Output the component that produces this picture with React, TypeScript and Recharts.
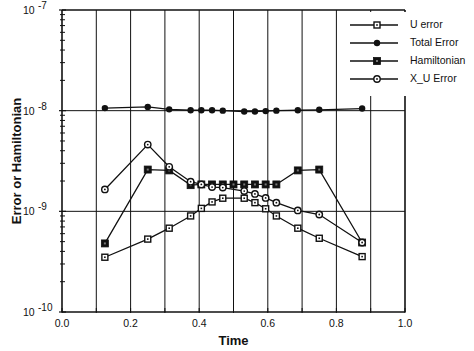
import React from 'react';
import {
  LineChart,
  Line,
  XAxis,
  YAxis,
  ReferenceLine,
  Legend
} from 'recharts';

// time values (1/32 steps), only the Hamiltonian has a point at 0.5
const times = [0.125, 0.25, 0.3125, 0.375, 0.40625, 0.4375, 0.46875, 0.5, 0.53125, 0.5625, 0.59375, 0.625, 0.6875, 0.75, 0.875];
const uError = [3.5e-10, 5.3e-10, 6.8e-10, 9.0e-10, 1.07e-9, 1.24e-9, 1.35e-9, null, 1.35e-9, 1.22e-9, 1.06e-9, 9.0e-10, 6.8e-10, 5.4e-10, 3.55e-10];
const totalError = [1.06e-8, 1.09e-8, 1.03e-8, 1.01e-8, 1.01e-8, 1.01e-8, 1.0e-8, null, 0.98e-8, 0.98e-8, 0.99e-8, 1.0e-8, 1.01e-8, 1.02e-8, 1.05e-8];
const hamiltonian = [4.8e-10, 2.6e-9, 2.55e-9, 1.82e-9, 1.85e-9, 1.85e-9, 1.85e-9, 1.85e-9, 1.85e-9, 1.85e-9, 1.85e-9, 1.85e-9, 2.55e-9, 2.6e-9, 4.9e-10];
const xuError = [1.65e-9, 4.6e-9, 2.77e-9, 1.97e-9, 1.85e-9, 1.74e-9, 1.72e-9, null, 1.59e-9, 1.49e-9, 1.36e-9, 1.22e-9, 1.02e-9, 9.3e-10, 4.9e-10];

const xTicks = [0, 0.1, 0.2, 0.3, 0.4, 0.5, 0.6, 0.7, 0.8, 0.9, 1.0];
const xLabelTicks = [0, 0.2, 0.4, 0.6, 0.8, 1.0];
const xGrid = [0.1, 0.2, 0.3, 0.4, 0.5, 0.6, 0.7, 0.8, 0.9];
const yDecades = [-10, -9, -8, -7];
const yGrid = [1e-9, 1e-8];
const minorMult = [2, 3, 4, 5, 6, 7, 8, 9];

const seriesNames = ['U error', 'Total Error', 'Hamiltonian', 'X_U Error'];

const yTicks: number[] = [];
yDecades.forEach((d, i) => {
  yTicks.push(Math.pow(10, d));
  if (i < yDecades.length - 1) minorMult.forEach(m => yTicks.push(m * Math.pow(10, d)));
});

const data = times.map((t, i) => ({
  t,
  u: uError[i],
  total: totalError[i],
  ham: hamiltonian[i],
  xu: xuError[i]
}));

const FONT = '"Liberation Sans", Arial, Helvetica, sans-serif';
const INK = '#111';

function SquareOpen({ cx, cy }: any) {
  if (cx == null || cy == null) return null;
  return (
    <g>
      <rect x={cx - 3} y={cy - 3} width={6} height={6} fill="#fff" stroke={INK} strokeWidth={1.4} />
      <rect x={cx - 0.8} y={cy - 0.8} width={1.6} height={1.6} fill={INK} />
    </g>
  );
}

function SquareFilled({ cx, cy }: any) {
  if (cx == null || cy == null) return null;
  return (
    <g>
      <rect x={cx - 3.5} y={cy - 3.5} width={7} height={7} fill={INK} stroke={INK} strokeWidth={0.8} />
      <rect x={cx - 1} y={cy - 1} width={2} height={2} fill="#777" />
    </g>
  );
}

function DotFilled({ cx, cy }: any) {
  if (cx == null || cy == null) return null;
  return <circle cx={cx} cy={cy} r={3.2} fill={INK} />;
}

function DotOpen({ cx, cy }: any) {
  if (cx == null || cy == null) return null;
  return (
    <g>
      <circle cx={cx} cy={cy} r={3.2} fill="#fff" stroke={INK} strokeWidth={1.4} />
      <circle cx={cx} cy={cy} r={0.9} fill={INK} />
    </g>
  );
}

const markers = [SquareOpen, DotFilled, SquareFilled, DotOpen];

function XTick({ x, y, payload }: any) {
  const v = payload.value;
  const label = xLabelTicks.some(l => Math.abs(l - v) < 1e-6);
  return (
    <g>
      <line x1={x} x2={x} y1={y - 4} y2={y + 1} stroke={INK} strokeWidth={1} />
      {label && (
        <text x={x} y={y + 15} textAnchor="middle" fontSize={10.5} fontFamily={FONT} fill={INK}>
          {v.toFixed(1)}
        </text>
      )}
    </g>
  );
}

function YTick({ x, y, payload }: any) {
  const v = payload.value;
  const exp = Math.log10(v);
  const isDecade = Math.abs(exp - Math.round(exp)) < 1e-6;
  if (!isDecade) {
    return <line x1={x - 2} x2={x + 3} y1={y} y2={y} stroke={INK} strokeWidth={1} />;
  }
  return (
    <g>
      <line x1={x - 3} x2={x + 4} y1={y} y2={y} stroke={INK} strokeWidth={1.2} />
      <text x={x - 39} y={y + 4} fontSize={10.5} fontFamily={FONT} fill={INK}>
        10
      </text>
      <text x={x - 24} y={y - 1} fontSize={10} fontFamily={FONT} fill={INK}>
        {'-' + Math.abs(Math.round(exp))}
      </text>
    </g>
  );
}

function LegendBox() {
  return (
    <div style={{ background: '#fff', width: 130, height: 84, position: 'relative' }}>
      {seriesNames.map((name, i) => {
        const M = markers[i];
        const cy = 13 + i * 18;
        return (
          <div key={name}>
            <svg width={60} height={84} style={{ position: 'absolute', left: 0, top: 0, overflow: 'visible' }}>
              <line x1={5} x2={53} y1={cy} y2={cy} stroke={INK} strokeWidth={1.3} />
              <M cx={32} cy={cy} />
            </svg>
            <div
              style={{
                position: 'absolute',
                left: 65,
                top: cy - 7,
                fontFamily: FONT,
                fontSize: 10.5,
                color: INK,
                whiteSpace: 'nowrap'
              }}
            >
              {name}
            </div>
          </div>
        );
      })}
    </div>
  );
}

export default function App() {
  return (
    <div style={{ position: 'absolute', left: 0, top: 0, width: 474, height: 351, background: '#fff', overflow: 'hidden' }}>
      <LineChart width={474} height={351} data={data} margin={{ top: 10, right: 69, bottom: 0, left: 0 }}>
        {xGrid.map(g => (
          <ReferenceLine key={'vx' + g} x={g} stroke={INK} strokeWidth={1} />
        ))}
        {yGrid.map(g => (
          <ReferenceLine key={'hy' + g} y={g} stroke={INK} strokeWidth={1} />
        ))}
        <ReferenceLine y={1e-7} stroke={INK} strokeWidth={1.6} />
        <ReferenceLine x={1.0} stroke={INK} strokeWidth={1.6} />
        <XAxis
          dataKey="t"
          type="number"
          domain={[0, 1]}
          ticks={xTicks}
          interval={0}
          height={39}
          tickSize={0}
          tickMargin={0}
          tick={<XTick />}
          axisLine={{ stroke: INK, strokeWidth: 1.6 }}
          label={{ value: 'Time', position: 'insideBottom', offset: 6, style: { fontFamily: FONT, fontWeight: 700, fontSize: 13, fill: INK } }}
        />
        <YAxis
          scale="log"
          type="number"
          domain={[1e-10, 1e-7]}
          allowDataOverflow
          ticks={yTicks}
          interval={0}
          width={62}
          tickSize={0}
          tickMargin={0}
          tick={<YTick />}
          axisLine={{ stroke: INK, strokeWidth: 1.6 }}
          label={{ value: 'Error or Hamiltonian', angle: -90, position: 'insideLeft', offset: 16, style: { textAnchor: 'middle', fontFamily: FONT, fontWeight: 700, fontSize: 13, fill: INK } }}
        />
        <Legend
          layout="horizontal"
          verticalAlign="middle"
          align="center"
          content={<LegendBox />}
          wrapperStyle={{ top: 12, left: 345, width: 130, height: 84 }}
        />
        <Line dataKey="u" name={seriesNames[0]} stroke={INK} strokeWidth={1.3} connectNulls dot={<SquareOpen />} isAnimationActive={false} />
        <Line dataKey="total" name={seriesNames[1]} stroke={INK} strokeWidth={1.3} connectNulls dot={<DotFilled />} isAnimationActive={false} />
        <Line dataKey="ham" name={seriesNames[2]} stroke={INK} strokeWidth={1.3} connectNulls dot={<SquareFilled />} isAnimationActive={false} />
        <Line dataKey="xu" name={seriesNames[3]} stroke={INK} strokeWidth={1.3} connectNulls dot={<DotOpen />} isAnimationActive={false} />
      </LineChart>
    </div>
  );
}
